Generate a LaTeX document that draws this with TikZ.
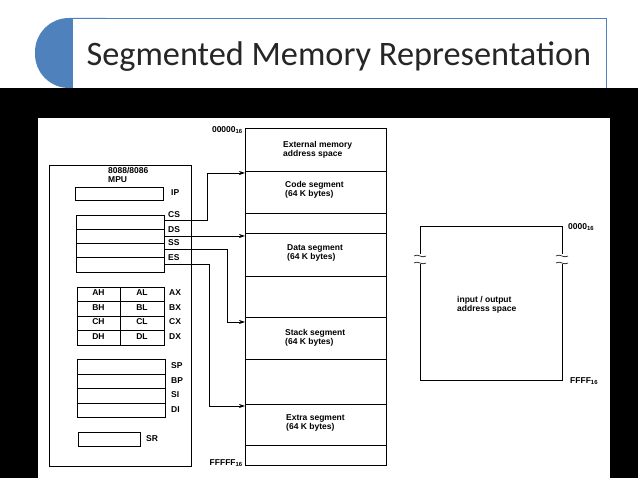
\documentclass[tikz,border=0pt]{standalone}
\usepackage{fontspec}
\setmainfont{Liberation Sans}
\newfontfamily\titlefont{Carlito}
\usetikzlibrary{arrows.meta}
\definecolor{tblue}{HTML}{4F81BD}
\begin{document}
\begin{tikzpicture}[x=1pt,y=-1pt,
  lbl/.style={font=\fontsize{8.5}{9}\selectfont\bfseries,inner sep=0pt,align=left},
  ln/.style={line width=0.8pt},
  arr/.style={line width=0.8pt,-{Stealth[length=6pt,width=4pt]}}]
\useasboundingbox (0,0) rectangle (638,478);
\fill[white] (0,0) rectangle (638,478);
% title
\fill[tblue,rounded corners=34pt] (35,18) rectangle (140,88);
\node[draw=tblue,fill=white,line width=0.8pt,minimum width=534pt,minimum height=70pt,inner sep=0pt,anchor=north west] (tbox) at (72,18) {};
\node[anchor=west,font=\titlefont\fontsize{34.3}{38}\selectfont,text=black!85] (title) at (83,57) {Segmented Memory Representation};
% black frame
\fill[black] (0,88) rectangle (638,478);
\fill[white] (38,118) rectangle (610,478);
% MPU
\draw[ln] (49,165) rectangle (191,466);
\node[lbl,anchor=north west] (mpu) at (108,167) {8088/8086\\MPU};
\draw[ln] (75,187) rectangle (163,200);
\node[lbl,anchor=west] (ip) at (171,193) {IP};
\draw[ln] (76,215) rectangle (164,272);
\foreach \y in {229,243,257} \draw[ln] (76,\y) -- (164,\y);
\node[lbl,anchor=west] (cs) at (168,215) {CS};
\node[lbl,anchor=west] (ds) at (168,230) {DS};
\node[lbl,anchor=west] (ss) at (168,243) {SS};
\node[lbl,anchor=west] (es) at (168,258) {ES};
\draw[ln] (77,287) rectangle (164,345);
\draw[ln] (120,287) -- (120,345);
\foreach \y in {301,316,330} \draw[ln] (77,\y) -- (164,\y);
\foreach \a/\b/\c/\y in {AH/AL/AX/293,BH/BL/BX/308,CH/CL/CX/322,DH/DL/DX/337}{
  \node[lbl] at (98.5,\y) {\a};
  \node[lbl] at (142,\y) {\b};
  \node[lbl,anchor=west] at (169,\y) {\c};}
\draw[ln] (77,359) rectangle (165,417);
\foreach \y in {374,388,403} \draw[ln] (77,\y) -- (165,\y);
\foreach \t/\y in {SP/366,BP/381,SI/395,DI/410} \node[lbl,anchor=west] at (171,\y) {\t};
\draw[ln] (78,432) rectangle (140,446);
\node[lbl,anchor=west] (sr) at (146,439) {SR};
% memory
\draw[ln] (245,128) rectangle (386,465);
\foreach \y in {171,213,233,276,317,359,404,445} \draw[ln] (245,\y) -- (386,\y);
\node[lbl,anchor=west] (ext) at (283,150) {External memory\\address space};
\node[lbl,anchor=west] (code) at (285,190) {Code segment\\(64 K bytes)};
\node[lbl,anchor=west] (data) at (287,253) {Data segment\\(64 K bytes)};
\node[lbl,anchor=west] (stack) at (285,338) {Stack segment\\(64 K bytes)};
\node[lbl,anchor=west] (extra) at (286,423) {Extra segment\\(64 K bytes)};
\node[lbl,anchor=east] (a0) at (243,130) {00000$_{\mathbf{16}}$};
\node[lbl,anchor=east] (a1) at (243,463) {FFFFF$_{\mathbf{16}}$};
\coordinate (m1) at (245,173);
\coordinate (m2) at (245,236);
\coordinate (m3) at (245,322);
\coordinate (m4) at (245,406);
\draw[arr] (164,220) -- (207,220) -- (207,173) -- (m1);
\draw[arr] (164,236) -- (m2);
\draw[arr] (164,249) -- (227,249) -- (227,322) -- (m3);
\draw[arr] (164,264) -- (209,264) -- (209,406) -- (m4);
% IO space
\draw[ln] (420,254) -- (420,226) -- (562,226) -- (562,254);
\draw[ln] (420,264) -- (420,380) -- (562,380) -- (562,264);
\foreach \x in {420,562}{
  \draw[line width=0.6pt] (\x-6,256) .. controls (\x-2,253) and (\x+2,259) .. (\x+6,256);
  \draw[line width=0.6pt] (\x-6,263) .. controls (\x-2,260) and (\x+2,266) .. (\x+6,263);}
\node[lbl,anchor=north west] (io) at (457,296) {input / output\\address space};
\node[lbl,anchor=west] (b0) at (568,227) {0000$_{\mathbf{16}}$};
\node[lbl,anchor=west] (b1) at (570,381) {FFFF$_{\mathbf{16}}$};
\end{tikzpicture}
\end{document}
